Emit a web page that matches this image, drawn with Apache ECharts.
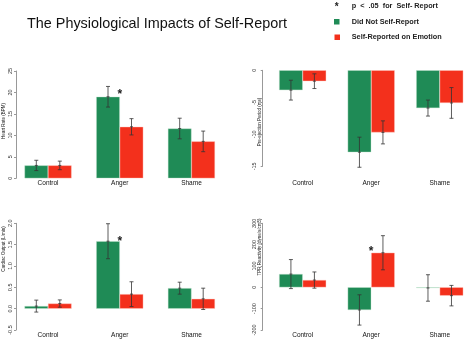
<!DOCTYPE html>
<html><head><meta charset="utf-8">
<script src="https://cdn.jsdelivr.net/npm/echarts@6/dist/echarts.min.js"></script>
<style>html,body{margin:0;padding:0;background:#fff}#c{width:474px;height:341px}</style>
</head><body><div id="c"></div>
<script>
const titleText = 'The Physiological Impacts of Self-Report';
const categories = ['Control', 'Anger', 'Shame'];
const seriesNames = ['Did Not Self-Report', 'Self-Reported on Emotion'];
const sigNote = 'p  <  .05  for  Self- Report';

// Heart rate (BPM)
const hrNot = [3.0, 19.0, 11.6];
const hrNotErr = [1.2, 2.4, 2.4];
const hrSelf = [3.0, 12.0, 8.6];
const hrSelfErr = [1.0, 1.9, 2.4];
const hrStar = [null, 20.1, null];
// Pre-ejection period (ms)
const pepNot = [-3.1, -12.8, -5.9];
const pepNotErr = [1.55, 2.35, 1.25];
const pepSelf = [-1.7, -9.7, -5.1];
const pepSelfErr = [1.15, 1.8, 2.4];
const pepStar = [null, null, null];
// Cardiac output (L/min)
const coNot = [0.06, 1.58, 0.48];
const coNotErr = [0.14, 0.41, 0.14];
const coSelf = [0.12, 0.34, 0.23];
const coSelfErr = [0.085, 0.29, 0.25];
const coStar = [null, 1.63, null];
// TPR reactivity
const tprNot = [62, -106, -3];
const tprNotErr = [68, 71, 62];
const tprSelf = [34, 162, -39];
const tprSelfErr = [38, 80, 48];
const tprStar = [null, 179, null];

const yTitles = ['Heart Rate (BPM)', 'Pre-ejection Period (ms)', 'Cardiac Output (L/min)', 'TPR Reactivity (dyne/s/cm5)'];
const yRanges = [[0, 25, 5], [-15, 0, 5], [-0.5, 2, 0.5], [-200, 300, 100]];

const GREEN = '#1f8b56', RED = '#f3301c';
const BAR_W = 23.5;
const FONT = 'Liberation Sans, Arial, sans-serif';

const panels = [
  {not: hrNot, notE: hrNotErr, self: hrSelf, selfE: hrSelfErr, star: hrStar, dec: 0},
  {not: pepNot, notE: pepNotErr, self: pepSelf, selfE: pepSelfErr, star: pepStar, dec: 0},
  {not: coNot, notE: coNotErr, self: coSelf, selfE: coSelfErr, star: coStar, dec: 1},
  {not: tprNot, notE: tprNotErr, self: tprSelf, selfE: tprSelfErr, star: tprStar, dec: 0}
];
const grids = [
  {left: 12.2, width: 215.1, top: 71, height: 107.3},
  {left: 268.4, width: 215.5, top: 70.3, height: 96},
  {left: 12.2, width: 215.1, top: 223.3, height: 106.7},
  {left: 268.4, width: 215.5, top: 223.3, height: 106.7}
];
const yOffsets = [-3.8, 5.7, -3.8, 5.7];
const yLabelMargins = [2.5, 5, 2.5, 5];
const xMargins = [1, 13, 1.5, 1.5];

function errRender(offset) {
  return function (params, api) {
    const i = api.value(0), v = api.value(1), e = api.value(2);
    const c = api.coord([i, v]);
    const x = c[0] + offset;
    const yt = api.coord([i, v + e])[1];
    const yb = api.coord([i, v - e])[1];
    const st = {stroke: '#333', lineWidth: 0.8};
    return {type: 'group', children: [
      {type: 'line', shape: {x1: x, y1: yt, x2: x, y2: yb}, style: st},
      {type: 'line', shape: {x1: x - 2, y1: yt, x2: x + 2, y2: yt}, style: st},
      {type: 'line', shape: {x1: x - 2, y1: yb, x2: x + 2, y2: yb}, style: st},
      {type: 'line', shape: {x1: x - 1.5, y1: c[1], x2: x + 1.5, y2: c[1]}, style: st}
    ]};
  };
}
function starRender(params, api) {
  const c = api.coord([api.value(0), api.value(1)]);
  return {type: 'text', x: c[0], y: c[1] + 3, style: {text: '*', fill: '#222', font: 'bold 12px ' + FONT, align: 'center', verticalAlign: 'middle'}};
}

const xAxis = [], yAxis = [], series = [];
panels.forEach((p, k) => {
  xAxis.push({gridIndex: k, type: 'category', data: categories, position: 'bottom',
    axisLine: {show: false, onZero: false}, axisTick: {show: false},
    axisLabel: {margin: xMargins[k], color: '#111', fontSize: 6.5, fontFamily: FONT}});
  const r = yRanges[k];
  yAxis.push({gridIndex: k, type: 'value', min: r[0], max: r[1], interval: r[2], offset: yOffsets[k],
    splitLine: {show: false},
    axisLine: {show: true, lineStyle: {color: '#999', width: 1}},
    axisTick: {show: true, length: 2, lineStyle: {color: '#999'}},
    axisLabel: {rotate: 90, margin: yLabelMargins[k], color: '#333', fontSize: 5.5, fontFamily: FONT,
      formatter: v => v.toFixed(p.dec)}});
  series.push({type: 'bar', name: seriesNames[0], xAxisIndex: k, yAxisIndex: k, data: p.not,
    barWidth: BAR_W, barGap: '0%', itemStyle: {color: GREEN, borderColor: '#bfe3cc', borderWidth: 0.4}});
  series.push({type: 'bar', name: seriesNames[1], xAxisIndex: k, yAxisIndex: k, data: p.self,
    barWidth: BAR_W, barGap: '0%', itemStyle: {color: RED, borderColor: '#ffc8c0', borderWidth: 0.4}});
  series.push({type: 'custom', xAxisIndex: k, yAxisIndex: k, renderItem: errRender(-BAR_W / 2), z: 5,
    data: p.not.map((v, i) => [i, v, p.notE[i]])});
  series.push({type: 'custom', xAxisIndex: k, yAxisIndex: k, renderItem: errRender(BAR_W / 2), z: 5,
    data: p.self.map((v, i) => [i, v, p.selfE[i]])});
  const stars = p.star.map((v, i) => [i, v]).filter(d => d[1] !== null);
  if (stars.length) series.push({type: 'custom', xAxisIndex: k, yAxisIndex: k, renderItem: starRender, z: 6, data: stars});
});

const titlePos = [[3.5, 121], [259.5, 122], [3.5, 249], [259.5, 247]];
const graphic = [
  {type: 'text', left: 27, top: 17, style: {text: titleText, font: '14.4px ' + FONT, fill: '#111'}},
  {type: 'text', x: 336.7, y: 7.5, style: {text: '*', font: 'bold 10px ' + FONT, fill: '#222', align: 'center', verticalAlign: 'middle'}},
  {type: 'text', x: 351.7, y: 5.5, style: {text: sigNote, font: 'bold 7.3px ' + FONT, fill: '#222', verticalAlign: 'middle'}},
  {type: 'rect', shape: {x: 334, y: 19, width: 5.5, height: 5.5}, style: {fill: GREEN}},
  {type: 'text', x: 351.7, y: 21.7, style: {text: seriesNames[0], font: 'bold 7.3px ' + FONT, fill: '#222', verticalAlign: 'middle'}},
  {type: 'rect', shape: {x: 334.5, y: 34.5, width: 5.5, height: 5.5}, style: {fill: RED}},
  {type: 'text', x: 351.7, y: 37.3, style: {text: seriesNames[1], font: 'bold 7.3px ' + FONT, fill: '#222', verticalAlign: 'middle'}}
];
titlePos.forEach((t, k) => graphic.push({type: 'text', x: t[0], y: t[1], rotation: Math.PI / 2,
  style: {text: yTitles[k], font: '4.5px ' + FONT, fill: '#222', align: 'center', verticalAlign: 'middle'}}));

const chart = echarts.init(document.getElementById('c'), null, {renderer: 'canvas'});
chart.setOption({animation: false, backgroundColor: '#fff', grid: grids, xAxis, yAxis, series, graphic});
</script></body></html>
